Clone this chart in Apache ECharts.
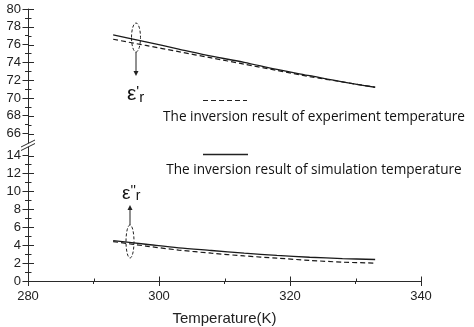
<!DOCTYPE html>
<html>
<head>
<meta charset="utf-8">
<script src="https://cdn.jsdelivr.net/npm/echarts@6/dist/echarts.min.js"></script>
<style>
  html, body { margin: 0; padding: 0; background: #fff; }
  #chart { width: 474px; height: 327px; }
</style>
</head>
<body>
<div id="chart"></div>
<script>
// Temperature samples (K)
const temps = [293, 298, 303, 308, 313, 318, 323, 328, 333];
// Real part ε'r
const realSimulation = [77.1, 76.3, 75.5, 74.7, 74.0, 73.2, 72.5, 71.8, 71.2];
const realExperiment = [76.6, 75.9, 75.2, 74.5, 73.8, 73.1, 72.4, 71.8, 71.2];
// Imaginary part ε''r
const imagSimulation = [4.5, 4.1, 3.7, 3.4, 3.1, 2.85, 2.65, 2.5, 2.4];
const imagExperiment = [4.4, 3.9, 3.45, 3.1, 2.8, 2.55, 2.3, 2.1, 2.0];

const seriesNames = [
  'The inversion result of experiment temperature',
  'The inversion result of simulation temperature'
];
const xTicks = [280, 300, 320, 340];
const upperRange = [66, 80];
const lowerRange = [0, 14];

const pairs = (vals) => temps.map((t, i) => [t, vals[i]]);

const AX = '#2a2a2a';
const LEFT = 28, RIGHT = 53;
const FONT = "'Liberation Sans', Arial, sans-serif";
const UPPER = { left: LEFT, right: RIGHT, top: 9, height: 124.5 };
const LOWER = { left: LEFT, right: RIGHT, top: 155.5, height: 125.5 };

function xAxisDef(gridIndex, show) {
  return {
    type: 'value', gridIndex, min: xTicks[0], max: xTicks[xTicks.length - 1], interval: 20,
    show, position: 'bottom',
    axisLine: { show: true, onZero: false, lineStyle: { color: AX, width: 1 } },
    axisTick: { show: true, length: 5, lineStyle: { color: AX } },
    minorTick: { show: true, splitNumber: 2, length: 3, lineStyle: { color: AX } },
    axisLabel: { show: true, margin: 9, color: '#222', fontSize: 13, fontFamily: FONT },
    splitLine: { show: false },
    name: 'Temperature(K)',
    nameLocation: 'middle', nameGap: 30,
    nameTextStyle: { color: '#222', fontSize: 15, fontFamily: FONT }
  };
}

function yAxisDef(gridIndex, range) {
  return {
    type: 'value', gridIndex, min: range[0], max: range[1], interval: 2, position: 'left',
    axisLine: { show: true, onZero: false, lineStyle: { color: AX, width: 1 } },
    axisTick: { show: true, length: 5.5, lineStyle: { color: AX } },
    minorTick: { show: true, splitNumber: 2, length: 3, lineStyle: { color: AX } },
    axisLabel: { show: true, margin: 7, color: '#222', fontSize: 13, fontFamily: FONT },
    splitLine: { show: false }
  };
}

function lineSeries(name, xi, yi, vals, dashed) {
  return {
    type: 'line', name, xAxisIndex: xi, yAxisIndex: yi, data: pairs(vals),
    showSymbol: false, smooth: 0.3,
    lineStyle: { color: '#1a1a1a', width: dashed ? 1.2 : 1.3, type: dashed ? [5, 3] : 'solid' }
  };
}

const chart = echarts.init(document.getElementById('chart'), null, { renderer: 'canvas' });

chart.setOption({
  animation: false,
  backgroundColor: '#fff',
  grid: [UPPER, LOWER],
  xAxis: [xAxisDef(0, false), xAxisDef(1, true)],
  yAxis: [yAxisDef(0, upperRange), yAxisDef(1, lowerRange)],
  series: [
    lineSeries(seriesNames[1], 0, 0, realSimulation, false),
    lineSeries(seriesNames[0], 0, 0, realExperiment, true),
    lineSeries(seriesNames[1], 1, 1, imagSimulation, false),
    lineSeries(seriesNames[0], 1, 1, imagExperiment, true)
  ]
});

// Inward half of each axis tick, placed through the axes' own scales,
// so the ticks cross the axis lines.
const tickLine = (x1, y1, x2, y2) => ({ type: 'line', silent: true, shape: { x1, y1, x2, y2 }, style: { stroke: AX, lineWidth: 1 } });
const inwardTicks = [];
const axisX = Math.round(chart.convertToPixel({ xAxisIndex: 1, yAxisIndex: 1 }, [xTicks[0], 0])[0]) + 0.5;
[[0, upperRange], [1, lowerRange]].forEach(([gi, range]) => {
  for (let v = range[0]; v <= range[1]; v++) {
    const py = Math.round(chart.convertToPixel({ xAxisIndex: gi, yAxisIndex: gi }, [xTicks[0], v])[1]) + 0.5;
    const len = v % 2 === 0 ? 5.5 : 3;
    inwardTicks.push(tickLine(axisX, py, axisX + len, py));
  }
});
const axisY = Math.round(chart.convertToPixel({ xAxisIndex: 1, yAxisIndex: 1 }, [xTicks[0], 0])[1]) + 0.5;
for (let v = xTicks[0]; v <= xTicks[xTicks.length - 1]; v += 10) {
  const px = Math.round(chart.convertToPixel({ xAxisIndex: 1, yAxisIndex: 1 }, [v, 0])[0]) + 0.5;
  const len = v % 20 === 0 ? 5 : 3;
  inwardTicks.push(tickLine(px, axisY, px, axisY - len));
}

const dash = [3, 2];
const epsRich = (big, small) => ({
  a: { fontSize: big, fontFamily: FONT, fill: '#111', verticalAlign: 'bottom' },
  b: { fontSize: small, fontFamily: FONT, fill: '#111', verticalAlign: 'top' },
  c: { fontSize: small, fontFamily: FONT, fill: '#111', verticalAlign: 'bottom' }
});

chart.setOption({
  graphic: inwardTicks.concat([
    // axis continuation through the break
    { type: 'line', shape: { x1: LEFT + 0.5, y1: 133.5, x2: LEFT + 0.5, y2: 155.5 }, style: { stroke: AX, lineWidth: 1 } },
    { type: 'polygon', shape: { points: [[21, 147], [35, 140], [35, 143.5], [21, 150.5]] }, style: { fill: '#fff' } },
    { type: 'line', shape: { x1: 21, y1: 147, x2: 35, y2: 140 }, style: { stroke: AX, lineWidth: 1 } },
    { type: 'line', shape: { x1: 21, y1: 150.5, x2: 35, y2: 143.5 }, style: { stroke: AX, lineWidth: 1 } },

    // ε'r callout
    { type: 'ellipse', shape: { cx: 136, cy: 37.5, rx: 4.5, ry: 14.5 }, style: { fill: null, stroke: '#222', lineWidth: 1, lineDash: dash } },
    { type: 'line', shape: { x1: 136, y1: 52, x2: 136, y2: 72 }, style: { stroke: '#222', lineWidth: 1 } },
    { type: 'polygon', shape: { points: [[133.5, 71], [138.5, 71], [136, 76]] }, style: { fill: '#222' } },
    { type: 'text', x: 127, y: 84, style: { text: '{a|ε}{b|\'}{c|r}', rich: epsRich(21, 15) } },

    // ε''r callout
    { type: 'ellipse', shape: { cx: 130, cy: 241.5, rx: 4, ry: 16.5 }, style: { fill: null, stroke: '#222', lineWidth: 1, lineDash: dash } },
    { type: 'line', shape: { x1: 130, y1: 225, x2: 130, y2: 209 }, style: { stroke: '#222', lineWidth: 1 } },
    { type: 'polygon', shape: { points: [[127.5, 210], [132.5, 210], [130, 205]] }, style: { fill: '#222' } },
    { type: 'text', x: 122, y: 184, style: { text: '{a|ε}{b|\'\'}{c|r}', rich: epsRich(19, 14) } },

    // key: dashed = experiment, solid = simulation
    { type: 'line', shape: { x1: 203, y1: 100.5, x2: 247, y2: 100.5 }, style: { stroke: '#222', lineWidth: 1.2, lineDash: [5, 3] } },
    { type: 'text', x: 314, y: 117, style: { text: seriesNames[0], fontSize: 13.6, fontFamily: 'Open Sans', fill: '#111', align: 'center', verticalAlign: 'middle' } },
    { type: 'line', shape: { x1: 203, y1: 154.5, x2: 248, y2: 154.5 }, style: { stroke: '#222', lineWidth: 1.3 } },
    { type: 'text', x: 314, y: 170, style: { text: seriesNames[1], fontSize: 13.6, fontFamily: 'Open Sans', fill: '#111', align: 'center', verticalAlign: 'middle' } }
  ])
});
</script>
</body>
</html>
